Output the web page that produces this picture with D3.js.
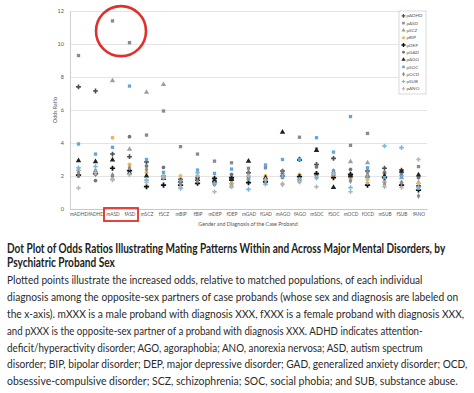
<!DOCTYPE html>
<html><head><meta charset="utf-8">
<script src="https://cdn.jsdelivr.net/npm/d3@7"></script>
<style>body{margin:0;background:#fff}svg{display:block}</style>
</head><body>
<svg id="c" width="474" height="393"></svg>
<script>
const categories = ["mADHD","fADHD","mASD","fASD","mSCZ","fSCZ","mBIP","fBIP","mDEP","fDEP","mGAD","fGAD","mAGO","fAGO","mSOC","fSOC","mOCD","fOCD","mSUB","fSUB","fANO"];
const seriesNames = ["pADHD","pASD","pSCZ","pBIP","pDEP","pGAD","pAGO","pSOC","pOCD","pSUB","pANO"];
const pADHD = [7.4,7.15,3.33,3.17,2.85,2.0,1.8,1.9,1.7,1.8,2.2,1.8,2.3,3.0,2.7,3.07,2.0,2.3,2.47,2.36,1.4];
const pASD  = [9.3,2.3,11.4,10.08,4.48,5.94,3.78,3.33,2.9,2.8,2.47,2.5,2.0,4.35,3.64,2.3,3.86,4.58,2.2,2.2,2.57];
const pSCZ  = [2.4,2.3,7.78,3.62,7.07,7.55,1.7,1.9,1.6,1.6,2.0,1.8,2.2,1.8,2.1,2.1,2.87,2.8,1.7,1.9,1.6];
const pBIP  = [2.3,2.2,4.32,2.7,2.22,1.86,2.0,2.0,1.6,1.5,1.8,2.0,1.9,2.1,2.0,2.05,1.8,1.8,1.65,1.6,1.56];
const pDEP  = [2.06,2.15,2.47,2.32,1.35,1.45,1.45,1.56,1.86,1.9,1.6,1.65,2.0,1.96,2.15,1.9,2.1,1.45,1.9,1.45,1.15];
const pGAD  = [2.0,1.72,2.0,4.38,2.6,2.52,1.6,1.9,1.5,2.1,2.2,1.8,2.3,1.8,2.55,2.1,2.4,2.3,2.2,2.05,1.9];
const pAGO  = [2.93,2.87,2.97,2.2,2.0,1.86,1.7,1.8,1.7,1.8,2.9,1.9,4.65,3.0,3.55,1.31,2.0,2.0,2.0,2.3,2.06];
const pSOC  = [3.94,3.33,3.74,7.45,3.0,2.22,1.7,2.36,2.16,2.42,1.8,2.67,3.0,3.0,4.32,3.45,5.6,2.5,1.9,2.0,1.25];
const pOCD  = [2.2,2.1,2.06,2.5,2.4,1.9,1.5,1.7,1.5,1.4,1.9,1.7,1.5,1.65,1.9,2.3,1.7,2.2,1.5,1.6,0.79];
const pSUB  = [2.5,2.57,1.8,2.1,1.75,1.9,1.25,2.2,1.55,1.35,1.19,1.5,2.0,1.8,1.9,2.2,1.3,2.0,3.82,3.72,1.3];
const pANO  = [1.27,2.2,1.75,2.1,1.6,2.0,1.3,2.0,1.05,1.35,2.0,1.8,1.52,1.65,1.35,2.1,1.05,1.6,1.35,1.3,3.0];
const yTicks = [0,2,4,6,8,10,12];
const highlighted = ["mASD","fASD"];
const titleLines = ["Dot Plot of Odds Ratios Illustrating Mating Patterns Within and Across Major Mental Disorders, by","Psychiatric Proband Sex"];
const bodyLines = [
 "Plotted points illustrate the increased odds, relative to matched populations, of each individual",
 "diagnosis among the opposite-sex partners of case probands (whose sex and diagnosis are labeled on",
 "the x-axis). mXXX is a male proband with diagnosis XXX, fXXX is a female proband with diagnosis XXX,",
 "and pXXX is the opposite-sex partner of a proband with diagnosis XXX. ADHD indicates attention-",
 "deficit/hyperactivity disorder; AGO, agoraphobia; ANO, anorexia nervosa; ASD, autism spectrum",
 "disorder; BIP, bipolar disorder; DEP, major depressive disorder; GAD, generalized anxiety disorder; OCD,",
 "obsessive-compulsive disorder; SCZ, schizophrenia; SOC, social phobia; and SUB, substance abuse."
];

const values = {pADHD,pASD,pSCZ,pBIP,pDEP,pGAD,pAGO,pSOC,pOCD,pSUB,pANO};
const styles = {
  pADHD:{s:d3.symbolCross,c:"#4d4d4d",z:13},
  pASD:{s:d3.symbolSquare,c:"#8a8a8a",z:11},
  pSCZ:{s:d3.symbolTriangle,c:"#9e9e9e",z:12},
  pBIP:{s:d3.symbolCircle,c:"#f0b45a",z:12},
  pDEP:{s:d3.symbolCross,c:"#111111",z:15},
  pGAD:{s:d3.symbolCircle,c:"#767676",z:11},
  pAGO:{s:d3.symbolTriangle,c:"#222222",z:13},
  pSOC:{s:d3.symbolSquare,c:"#5ea8dc",z:11},
  pOCD:{s:d3.symbolDiamond,c:"#8c8c8c",z:11},
  pSUB:{s:d3.symbolCross,c:"#74b9e4",z:12},
  pANO:{s:d3.symbolCross,c:"#b5b5b5",z:11}
};
const FONT = "Lato, sans-serif";

const svg = d3.select("#c");
const x = d3.scalePoint().domain(categories).range([70,427]).padding(0.5);
const y = d3.scaleLinear().domain([0,12]).range([209,11]);

// grid
svg.append("g").attr("transform","translate(70,0)")
  .call(d3.axisLeft(y).tickValues(yTicks.filter(d=>d>0)).tickSize(-357).tickFormat(""))
  .call(g=>g.select(".domain").remove())
  .call(g=>g.selectAll("line").attr("stroke","#e4e4e4").attr("stroke-width",1));

// y axis
svg.append("g").attr("transform","translate(70,0)")
  .call(d3.axisLeft(y).tickValues(yTicks).tickSize(0).tickPadding(6))
  .call(g=>g.select(".domain").attr("stroke","#cfcfcf"))
  .call(g=>g.selectAll("text").attr("font-family",FONT).attr("font-size",5.5).attr("fill","#555"));

// x axis
svg.append("g").attr("transform","translate(0,209)")
  .call(d3.axisBottom(x).tickSize(0).tickPadding(3.5))
  .call(g=>g.select(".domain").attr("stroke","#c8c8c8"))
  .call(g=>g.selectAll("text").attr("font-family",FONT).attr("font-size",4.8).attr("fill","#555"));

svg.append("text").attr("transform","translate(57,110) rotate(-90)").attr("text-anchor","middle")
  .attr("font-family",FONT).attr("font-size",5.3).attr("fill","#555").text("Odds Ratio");
svg.append("text").attr("x",248).attr("y",226).attr("text-anchor","middle")
  .attr("font-family",FONT).attr("font-size",5.3).attr("fill","#555").text("Gender and Diagnosis of the Case Proband");

// points
seriesNames.forEach(n=>{
  const st = styles[n];
  svg.append("g").selectAll("path").data(values[n].map((v,i)=>({c:categories[i],v})))
    .join("path")
    .attr("transform",d=>`translate(${x(d.c)},${y(d.v)})`)
    .attr("d",d3.symbol().type(st.s).size(st.z))
    .attr("fill",st.c);
});

// legend
const lg = svg.append("g");
lg.append("rect").attr("x",399).attr("y",11).attr("width",27).attr("height",83)
  .attr("fill","#fff").attr("stroke","#cfcfcf").attr("stroke-width",0.8);
seriesNames.forEach((n,i)=>{
  const yy = 15.8 + i*7.3;
  const st = styles[n];
  lg.append("path").attr("transform",`translate(403.5,${yy})`).attr("d",d3.symbol().type(st.s).size(st.z*0.6)).attr("fill",st.c);
  lg.append("text").attr("x",406.5).attr("y",yy).attr("dy","0.35em").attr("font-family",FONT)
    .attr("font-size",4.6).attr("fill","#555").text(n);
});

// highlights
const xa = x(highlighted[0]), xb = x(highlighted[1]);
svg.append("circle").attr("cx",(xa+xb)/2).attr("cy",y(10.78)).attr("r",25)
  .attr("fill","none").attr("stroke","#e0302b").attr("stroke-width",2.6);
svg.append("rect").attr("x",xa-x.step()/2).attr("y",y(0)-1).attr("width",xb-xa+x.step()).attr("height",13)
  .attr("fill","none").attr("stroke","#e0302b").attr("stroke-width",1.8);

// caption: fit each line horizontally by a scale transform
function fitLine(t, yy, w, size, weight, color){
  const el = svg.append("text").attr("x",0).attr("y",0).attr("font-family",FONT)
    .attr("font-weight",weight).attr("font-size",size).attr("fill",color).text(t);
  const nat = el.node().getComputedTextLength();
  el.attr("transform",`translate(7,${yy}) scale(${w/nat},1)`);
}
const titleW = [439,108];
titleLines.forEach((t,i)=>fitLine(t, 252.5+i*14.5, titleW[i], 12.5, "bold", "#222"));
const bodyW = [416,452,458,416,416,461,451];
bodyLines.forEach((t,i)=>fitLine(t, 284.3+i*16.8, bodyW[i], 12, "normal", "#2a2a2a"));
</script>
</body></html>
